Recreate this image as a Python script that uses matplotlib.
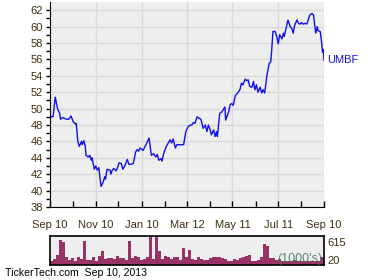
import matplotlib
matplotlib.use("Agg")
import matplotlib.pyplot as plt
import numpy as np

# price series: day offset from Sep 10, 2012 and closing price
days = [0, 4, 7, 10, 13, 14, 17, 22, 25, 28, 31, 34, 35, 37, 39, 42, 43, 45, 47, 48,
        51, 53, 55, 56, 59, 61, 63, 65, 68, 71, 73, 74, 76, 80, 81, 83, 85, 88, 90, 92,
        95, 97, 100, 103, 105, 107, 111, 114, 116, 118,
        120, 124, 129, 132, 135, 138, 141, 143, 145, 148, 149, 152, 155, 160, 162, 164,
        167, 169, 172, 178, 181, 184, 187, 189, 191, 193, 196, 199, 201, 204, 207, 209,
        211, 213, 215, 218, 220, 222, 223, 226, 229, 231, 233, 234, 238, 240, 242, 244,
        247, 250,
        253, 255, 257, 260, 262, 264, 266, 269, 271, 273, 275, 277, 280, 282, 284, 286,
        289, 292, 294, 295, 297, 300, 302, 304, 306, 309, 311, 312, 314, 317, 320, 322,
        324, 326, 329, 331, 333, 335, 337, 340, 342, 344, 346, 349, 351, 353, 354, 356,
        357, 360, 362, 363, 364, 365]
prices = [49.0, 49.0, 51.4, 50.0, 49.4, 48.7, 48.9, 48.7, 48.7, 49.1, 48.4, 48.1, 48.2, 46.0, 45.4, 46.0, 45.6, 46.1, 45.4, 44.3,
          44.1, 44.3, 43.7, 44.0, 42.6, 43.0, 42.5, 42.8, 40.5, 41.1, 41.7, 41.4, 42.6, 42.5, 42.0, 42.5, 42.7, 42.4, 42.8, 43.4,
          43.3, 42.6, 43.1, 43.8, 43.2, 43.2, 43.3, 44.7, 45.0, 44.8,
          45.2, 44.9, 45.8, 46.4, 44.3, 44.5, 44.1, 44.4, 43.7, 43.9, 43.6, 44.7, 45.4, 46.2, 45.8, 46.3,
          45.2, 45.6, 45.6, 45.6, 47.2, 47.8, 48.0, 48.0, 48.3, 48.2, 49.0, 48.8, 48.7, 47.6, 48.0, 47.2,
          48.0, 47.5, 46.8, 47.4, 46.6, 47.2, 46.6, 49.4, 49.6, 49.9, 50.2, 48.6, 49.6, 50.5, 50.6, 50.4,
          51.6, 51.9,
          52.3, 53.1, 52.9, 53.6, 53.4, 53.5, 52.7, 52.6, 53.3, 52.3, 52.9, 52.0, 52.6, 51.9, 52.3, 51.9,
          54.1, 55.5, 55.7, 56.7, 59.4, 59.4, 58.8, 57.9, 59.0, 58.5, 59.2, 58.8, 59.6, 60.8, 60.0, 59.8,
          59.2, 60.2, 60.8, 60.4, 60.3, 60.5, 60.3, 60.4, 60.3, 60.8, 61.4, 61.6, 61.4, 60.0, 59.2, 60.0,
          59.5, 59.4, 57.9, 56.9, 57.2, 55.9]

# volume (thousands), one bar per ~4 days
volume = [91, 126, 218, 530, 487, 162, 105, 148, 77, 176, 119, 516, 105, 105, 162, 91, 197, 303, 126, 148,
          148, 126, 197, 148, 148, 105, 516, 148, 197, 162, 105, 126, 162, 615, 126, 615, 303, 126, 197, 176,
          126, 162, 176, 105, 360, 176, 317, 126, 105, 162, 126, 105, 105, 148, 162, 176, 176, 148, 119, 91,
          77, 126, 105, 148, 176, 197, 218, 77, 77, 105, 162, 460, 410, 148, 148, 105, 126, 91, 91, 77,
          91, 105, 91, 77, 77, 91, 91, 77, 91, 91, 176, 91]

tick_dates = ["2012-09-10", "2012-11-10", "2013-01-10", "2013-03-12", "2013-05-11", "2013-07-11", "2013-09-10"]
tick_labels = ["Sep 10", "Nov 10", "Jan 10", "Mar 12", "May 11", "Jul 11", "Sep 10"]
minor_dates = ["2012-10-10", "2012-12-10", "2013-02-10", "2013-04-11", "2013-06-11", "2013-08-11"]

start = np.datetime64("2012-09-10")
dates = start + np.array(days).astype("timedelta64[D]")
vol_days = np.arange(len(volume)) * 4.0 + 2.0
vol_dates = start + (vol_days * 24).astype("timedelta64[h]")

text_col = "#3f2f0f"
bg = "#eeeeee"
plt.rcParams["font.family"] = ["Liberation Sans", "DejaVu Sans"]

fig = plt.figure(figsize=(3.8, 2.8), dpi=100)
ax = fig.add_axes([50 / 380, 1 - 207 / 280, 274 / 380, 205 / 280])
ax.set_facecolor(bg)
ax.plot(dates, prices, color="#1010ee", linewidth=1.0)

xmin, xmax = np.datetime64("2012-09-10"), np.datetime64("2013-09-10")
ax.set_xlim(xmin, xmax)
ax.set_ylim(38, 63)
ax.set_yticks(np.arange(38, 63, 2))
ax.set_yticks(np.arange(39, 63, 2), minor=True)
ax.set_xticks([np.datetime64(d) for d in tick_dates])
ax.set_xticklabels(tick_labels)
ax.set_xticks([np.datetime64(d) for d in minor_dates], minor=True)
ax.grid(True, color="#d9d9d9", linewidth=1.0)
ax.set_axisbelow(True)
for s in ["top", "right"]:
    ax.spines[s].set_visible(False)
ax.tick_params(axis="y", which="major", direction="out", length=3, width=1, labelsize=8,
               labelcolor=text_col, pad=2)
ax.tick_params(axis="y", which="minor", direction="out", length=3, width=1)
ax.tick_params(axis="x", which="both", direction="in", length=4, width=1, labelsize=8,
               labelcolor=text_col, pad=9)
ax.text(1.01, (55.9 - 38) / 25, "UMBF", transform=ax.transAxes, color="#1010ee",
        fontsize=8, va="center", ha="left")

vax = fig.add_axes([50 / 380, 1 - 265 / 280, 274 / 380, 29 / 280])
vax.set_facecolor(bg)
vax.bar(vol_dates, volume, width=3.4, color="#993366", linewidth=0)
vax.set_xlim(xmin, xmax)
vax.set_ylim(0, 625)
vax.set_xticks([])
vax.set_yticks([])
for s in vax.spines.values():
    s.set_linewidth(1.2)
vax.text(0.995, 0.2, "(1000's)", transform=vax.transAxes, ha="right", va="center",
         fontsize=9, color="#3f7a5a", alpha=0.85)
fig.text(327 / 380, 1 - 243 / 280, "615", fontsize=8, color=text_col, va="center")
fig.text(327 / 380, 1 - 261 / 280, "20", fontsize=8, color=text_col, va="center")
fig.text(5 / 380, 1 - 273 / 280, "TickerTech.com  Sep 10, 2013", fontsize=7.6, color="black", va="center")

fig.savefig("out.png", dpi=100)
